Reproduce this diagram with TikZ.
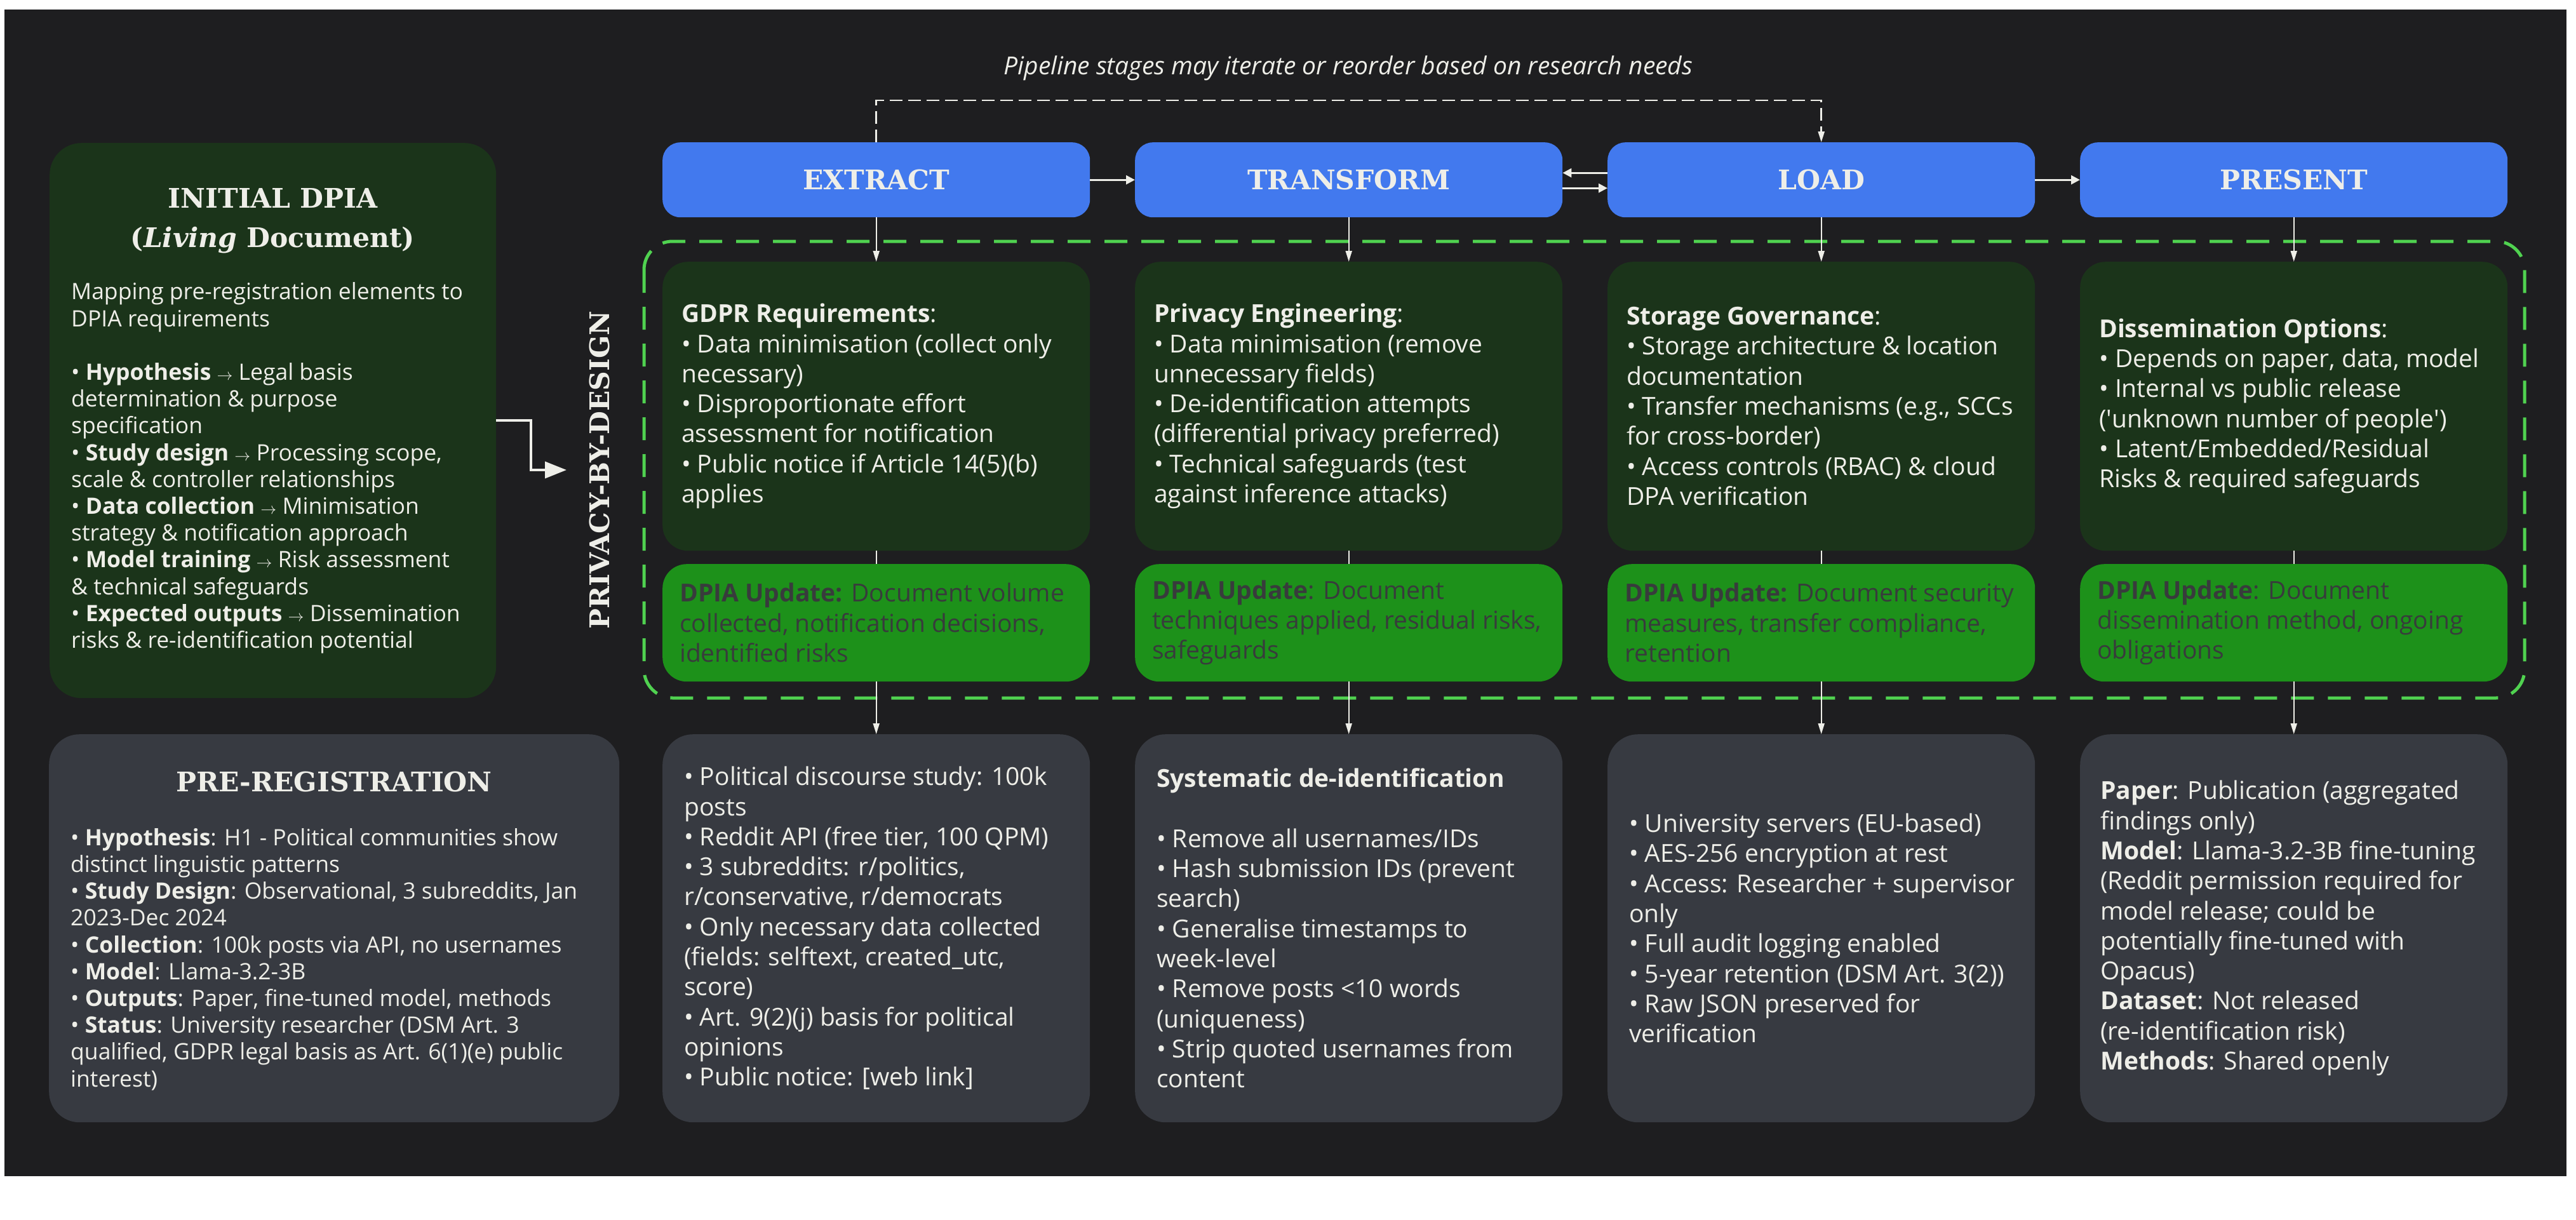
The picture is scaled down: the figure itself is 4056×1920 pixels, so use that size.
\documentclass[tikz,border=0pt]{standalone}
\usepackage{fontspec}
\setmainfont{Open Sans}
\newfontfamily\headfont{DejaVu Serif}
\usetikzlibrary{arrows.meta}
\definecolor{bgdark}{RGB}{30,30,32}
\definecolor{stageblue}{RGB}{66,121,238}
\definecolor{darkgreen}{RGB}{27,52,26}
\definecolor{updgreen}{RGB}{29,145,26}
\definecolor{greybox}{RGB}{55,58,65}
\definecolor{txt}{RGB}{238,238,232}
\definecolor{updtxt}{RGB}{56,59,60}
\definecolor{dashgreen}{RGB}{80,210,80}
\begin{document}
\begin{tikzpicture}[x=1pt,y=-1pt,
  boxbase/.style={anchor=north west, inner sep=0pt, minimum width=673pt},
  stage/.style={boxbase, fill=stageblue, rounded corners=28pt, minimum height=118pt, text=txt, font=\headfont\bfseries\fontsize{42.5}{50}\selectfont},
  reqbox/.style={boxbase, fill=darkgreen, rounded corners=40pt, minimum height=455pt},
  updbox/.style={boxbase, fill=updgreen, rounded corners=38pt, minimum height=185pt},
  greyb/.style={boxbase, fill=greybox, rounded corners=48pt, minimum height=611pt},
  midtext/.style={anchor=west, inner sep=0pt, align=left, text=txt, font=\fontsize{39}{47.3}\selectfont},
  updtext/.style={midtext, text=updtxt},
  lefttext/.style={anchor=west, inner sep=0pt, align=left, text=txt, font=\fontsize{35.5}{42.2}\selectfont},
  headtxt/.style={inner sep=0pt, align=center, text=txt, font=\headfont\bfseries\fontsize{42.5}{62}\selectfont},
  vline/.style={draw=txt, line width=2pt},
  varrow/.style={vline, -{Triangle[length=17pt,width=10pt]}},
  harrow/.style={draw=txt, line width=3pt, -{Triangle[length=14pt,width=14pt]}},
  fbline/.style={draw=txt, line width=2.5pt, dash pattern=on 20pt off 9pt, -{Triangle[length=17pt,width=10pt]}},
  bigarrow/.style={draw=txt, line width=4pt, -{Triangle[length=34pt,width=26pt]}}
]
\useasboundingbox (0,0) rectangle (4056,1920);
\fill[white] (0,0) rectangle (4056,1920);
\fill[bgdark] (7,15) rectangle (4041,1852);

% privacy-by-design frame
\draw[dashgreen, line width=5pt, dash pattern=on 36pt off 22pt, rounded corners=45pt] (1014,380) rectangle (3975,1099);

% left column
\node[anchor=north west, inner sep=0pt, fill=darkgreen, rounded corners=50pt, minimum width=703pt, minimum height=874pt] (dpia) at (78,225) {};
\node[headtxt] (dpiat) at (429.5,348) {INITIAL DPIA\\(\textit{Living} Document)};
\node[lefttext] (dpiab) at (112,737) {Mapping pre-registration elements to\\DPIA requirements\\[42.2pt]
\textbullet{} \textbf{Hypothesis} $\rightarrow$ Legal basis\\determination \& purpose\\specification\\
\textbullet{} \textbf{Study design} $\rightarrow$ Processing scope,\\scale \& controller relationships\\
\textbullet{} \textbf{Data collection} $\rightarrow$ Minimisation\\strategy \& notification approach\\
\textbullet{} \textbf{Model training} $\rightarrow$ Risk assessment\\\& technical safeguards\\
\textbullet{} \textbf{Expected outputs} $\rightarrow$ Dissemination\\risks \& re-identification potential};

\node[anchor=north west, inner sep=0pt, fill=greybox, rounded corners=48pt, minimum width=898pt, minimum height=611pt] (prereg) at (77,1156) {};
\node[headtxt] (preregt) at (526,1231) {PRE-REGISTRATION};
\node[lefttext] (preregb) at (111,1510.5) {\textbullet{} \textbf{Hypothesis}: H1 - Political communities show\\distinct linguistic patterns\\
\textbullet{} \textbf{Study Design}: Observational, 3 subreddits, Jan\\2023-Dec 2024\\
\textbullet{} \textbf{Collection}: 100k posts via API, no usernames\\
\textbullet{} \textbf{Model}: Llama-3.2-3B\\
\textbullet{} \textbf{Outputs}: Paper, fine-tuned model, methods\\
\textbullet{} \textbf{Status}: University researcher (DSM Art. 3\\qualified, GDPR legal basis as Art. 6(1)(e) public\\interest)};

\node[headtxt, rotate=90] (pbd) at (944,740) {PRIVACY-BY-DESIGN};
\coordinate (pbdin) at (892,740);
\draw[bigarrow] (dpia.east) -- ++(55,0) |- (pbdin);

% stages
\node[stage] (ext) at (1043,224) {EXTRACT};
\node[stage] (tra) at (1787,224) {TRANSFORM};
\node[stage] (loa) at (2531,224) {LOAD};
\node[stage] (pre) at (3275,224) {PRESENT};

\node[font=\itshape\fontsize{39}{47}\selectfont, text=txt, inner sep=0pt] (note) at (2123,107) {Pipeline stages may iterate or reorder based on research needs};

% requirement boxes
\node[reqbox] (r1) at (1043,412) {};
\node[reqbox] (r2) at (1787,412) {};
\node[reqbox] (r3) at (2531,412) {};
\node[reqbox] (r4) at (3275,412) {};
\node[midtext] (r1t) at (1073,639.5) {\textbf{GDPR Requirements}:\\\textbullet{} Data minimisation (collect only\\necessary)\\\textbullet{} Disproportionate effort\\assessment for notification\\\textbullet{} Public notice if Article 14(5)(b)\\applies};
\node[midtext] (r2t) at (1817,639.5) {\textbf{Privacy Engineering}:\\\textbullet{} Data minimisation (remove\\unnecessary fields)\\\textbullet{} De-identification attempts\\(differential privacy preferred)\\\textbullet{} Technical safeguards (test\\against inference attacks)};
\node[midtext] (r3t) at (2561,639.5) {\textbf{Storage Governance}:\\\textbullet{} Storage architecture \& location\\documentation\\\textbullet{} Transfer mechanisms (e.g., SCCs\\for cross-border)\\\textbullet{} Access controls (RBAC) \& cloud\\DPA verification};
\node[midtext] (r4t) at (3305,639.5) {\textbf{Dissemination Options}:\\\textbullet{} Depends on paper, data, model\\\textbullet{} Internal vs public release\\(\textquotesingle unknown number of people\textquotesingle)\\\textbullet{} Latent/Embedded/Residual\\Risks \& required safeguards};

% DPIA update boxes
\node[updbox] (u1) at (1043,888) {};
\node[updbox] (u2) at (1787,888) {};
\node[updbox] (u3) at (2531,888) {};
\node[updbox] (u4) at (3275,888) {};
\node[updtext] (u1t) at (1070,980.5) {\textbf{DPIA Update:} Document volume\\collected, notification decisions,\\identified risks};
\node[updtext] (u2t) at (1814,980.5) {\textbf{DPIA Update}: Document\\techniques applied, residual risks,\\safeguards};
\node[updtext] (u3t) at (2558,980.5) {\textbf{DPIA Update:} Document security\\measures, transfer compliance,\\retention};
\node[updtext] (u4t) at (3302,980.5) {\textbf{DPIA Update}: Document\\dissemination method, ongoing\\obligations};

% grey boxes
\node[greyb] (g1) at (1043,1156) {};
\node[greyb] (g2) at (1787,1156) {};
\node[greyb] (g3) at (2531,1156) {};
\node[greyb] (g4) at (3275,1156) {};
\node[midtext] (g1t) at (1077,1461.5) {\textbullet{} Political discourse study: 100k\\posts\\\textbullet{} Reddit API (free tier, 100 QPM)\\\textbullet{} 3 subreddits: r/politics,\\r/conservative, r/democrats\\\textbullet{} Only necessary data collected\\(fields: selftext, created\_utc,\\score)\\\textbullet{} Art. 9(2)(j) basis for political\\opinions\\\textbullet{} Public notice: [web link]};
\node[midtext] (g2t) at (1821,1461.5) {\textbf{Systematic de-identification}\\[47.3pt]\textbullet{} Remove all usernames/IDs\\\textbullet{} Hash submission IDs (prevent\\search)\\\textbullet{} Generalise timestamps to\\week-level\\\textbullet{} Remove posts <10 words\\(uniqueness)\\\textbullet{} Strip quoted usernames from\\content};
\node[midtext] (g3t) at (2565,1461.5) {\textbullet{} University servers (EU-based)\\\textbullet{} AES-256 encryption at rest\\\textbullet{} Access: Researcher + supervisor\\only\\\textbullet{} Full audit logging enabled\\\textbullet{} 5-year retention (DSM Art. 3(2))\\\textbullet{} Raw JSON preserved for\\verification};
\node[midtext] (g4t) at (3307,1461.5) {\textbf{Paper}: Publication (aggregated\\findings only)\\\textbf{Model}: Llama-3.2-3B fine-tuning\\(Reddit permission required for\\model release; could be\\potentially fine-tuned with\\Opacus)\\\textbf{Dataset}: Not released\\(re-identification risk)\\\textbf{Methods}: Shared openly};

% connectors
\draw[harrow] (ext.east) -- (tra.west);
\draw[harrow] ([yshift=11pt]loa.west) -- ([yshift=11pt]tra.east);
\draw[harrow] ([yshift=-13pt]tra.east) -- ([yshift=-13pt]loa.west);
\draw[harrow] (loa.east) -- (pre.west);
\draw[fbline] (ext.north) -- ++(0,-66) -| (loa.north);
\foreach \s/\r/\u/\g in {ext/r1/u1/g1, tra/r2/u2/g2, loa/r3/u3/g3, pre/r4/u4/g4}{
  \draw[varrow] (\s.south) -- (\r.north);
  \draw[vline] (\r.south) -- (\u.north);
  \draw[varrow] (\u.south) -- (\g.north);
}
\end{tikzpicture}
\end{document}
